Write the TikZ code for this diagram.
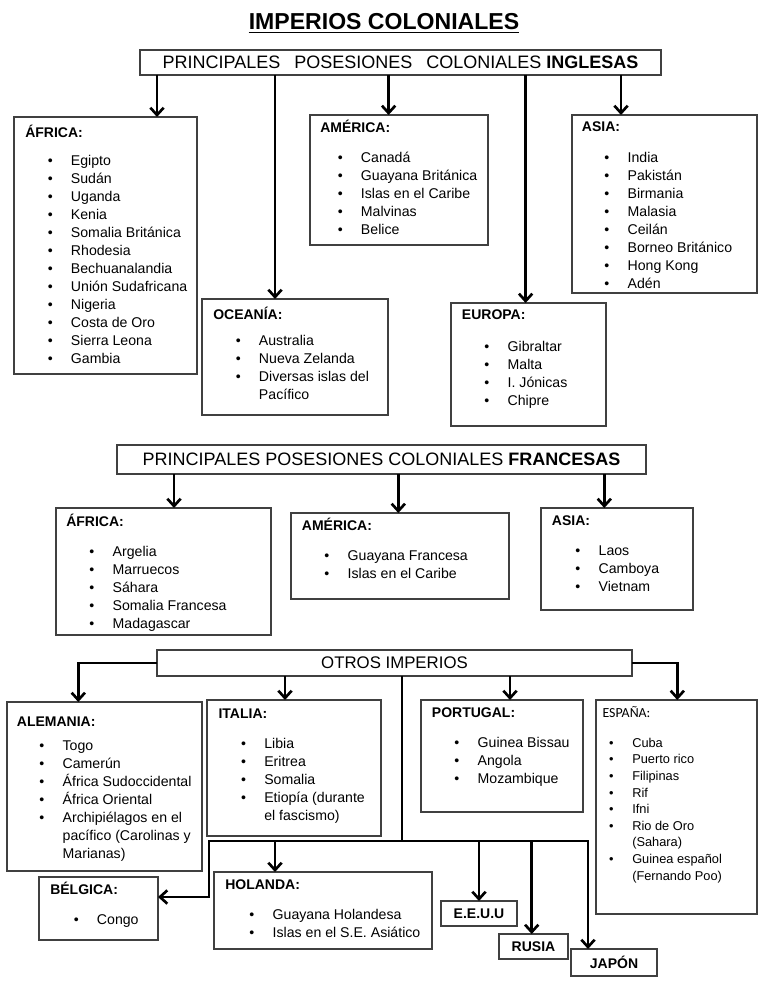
\documentclass[tikz,border=0pt]{standalone}
\usepackage{fontspec}
\setmainfont{Liberation Sans}
\newfontfamily\carl{Carlito}
\usetikzlibrary{arrows.meta}
\newcommand{\mkbox}[6][]{\node[bx,#1, minimum width={(#4-#2)*0.75pt}, minimum height={(#6-#3)*0.75pt}] (#5) at ({(#2+#4)/2},{(#3+#6)/2}) {};}
\newcommand{\lst}[1]{\begin{tabular}[t]{@{}p{17.4pt}@{}l@{}}#1\end{tabular}}
\newcommand{\bu}{\textbullet}
\tikzset{
 bx/.style={draw=black!75, line width=1.1pt, inner sep=0pt, outer sep=0pt, fill=white},
 conn/.style={line width=2pt, line join=miter},
 arr/.style={conn, -{Straight Barb[length=5.5pt,width=10pt]}},
 lbl/.style={anchor=base west, inner sep=0pt, font=\fontsize{10.5}{12}\selectfont\bfseries},
 items/.style={anchor=base west, inner sep=0pt, font=\fontsize{10.6}{13.5}\selectfont},
 sitems/.style={anchor=base west, inner sep=0pt, font=\fontsize{9.6}{12.45}\selectfont},
 hdr/.style={font=\fontsize{13.5}{16}\selectfont},
 ctr/.style={font=\fontsize{10.5}{12}\selectfont\bfseries, inner sep=0pt},
}
\begin{document}
\begin{tikzpicture}[x=0.75pt,y=-0.75pt]
\useasboundingbox (0,0) rectangle (768,994);
% title
\node[anchor=base, inner sep=0pt, font=\fontsize{17.3}{20}\selectfont\bfseries] (title) at (384,30) {IMPERIOS COLONIALES};
\draw[line width=1.2pt] ([yshift=-2pt]title.base west) -- ([yshift=-2pt]title.base east);

% ---------- English ----------
\mkbox{140}{50}{661}{ing}{75}
\node[hdr] (ingt) at (ing.center) {PRINCIPALES\hspace{10.5pt}POSESIONES\hspace{10.5pt}COLONIALES \textbf{INGLESAS}};
\mkbox{14}{117}{197}{eafr}{374}
\mkbox{202}{299}{388}{eoce}{415}
\mkbox{310}{115}{488}{eame}{245}
\mkbox{451}{303}{606}{eeur}{426}
\mkbox{572}{115}{757}{easi}{293}

\node[lbl] (leafr) at (25,137.5) {ÁFRICA:};
\node[items] (ieafr) at (47.5,166) {\lst{\bu & Egipto\\ \bu & Sudán\\ \bu & Uganda\\ \bu & Kenia\\ \bu & Somalia Británica\\ \bu & Rhodesia\\ \bu & Bechuanalandia\\ \bu & Unión Sudafricana\\ \bu & Nigeria\\ \bu & Costa de Oro\\ \bu & Sierra Leona\\ \bu & Gambia}};
\node[lbl] (leame) at (320,132.5) {AMÉRICA:};
\node[items] (ieame) at (337.5,163) {\lst{\bu & Canadá\\ \bu & Guayana Británica\\ \bu & Islas en el Caribe\\ \bu & Malvinas\\ \bu & Belice}};
\node[lbl] (leasi) at (581.7,131.5) {ASIA:};
\node[items] (ieasi) at (604.2,162.7) {\lst{\bu & India\\ \bu & Pakistán\\ \bu & Birmania\\ \bu & Malasia\\ \bu & Ceilán\\ \bu & Borneo Británico\\ \bu & Hong Kong\\ \bu & Adén}};
\node[lbl] (leoce) at (213,319.5) {OCEANÍA:};
\node[items] (ieoce) at (235.5,345) {\lst{\bu & Australia\\ \bu & Nueva Zelanda\\ \bu & Diversas islas del\\ & Pacífico}};
\node[lbl] (leeur) at (461.7,319.5) {EUROPA:};
\node[items] (ieeur) at (484.2,351) {\lst{\bu & Gibraltar\\ \bu & Malta\\ \bu & I. Jónicas\\ \bu & Chipre}};

\coordinate (c1) at (157,0);
\coordinate (c2) at (275,0);
\coordinate (c3) at (388.6,0);
\coordinate (c4) at (525.6,0);
\coordinate (c5) at (621,0);
\draw[arr] (ing.south -| c1) -- (eafr.north -| c1);
\draw[arr] (ing.south -| c2) -- (eoce.north -| c2);
\draw[arr] (ing.south -| c3) -- (eame.north -| c3);
\draw[arr] (ing.south -| c4) -- (eeur.north -| c4);
\draw[arr] (ing.south -| c5) -- (easi.north -| c5);

% ---------- French ----------
\mkbox{117}{445}{646}{fra}{474}
\node[hdr] (frat) at (fra.center) {PRINCIPALES POSESIONES COLONIALES \textbf{FRANCESAS}};
\mkbox{56}{508}{271}{fafr}{635}
\mkbox{291}{513}{509}{fame}{599}
\mkbox{541}{508}{693}{fasi}{610}
\node[lbl] (lfafr) at (66,526) {ÁFRICA:};
\node[items] (ifafr) at (89.2,556.7) {\lst{\bu & Argelia\\ \bu & Marruecos\\ \bu & Sáhara\\ \bu & Somalia Francesa\\ \bu & Madagascar}};
\node[lbl] (lfame) at (301.7,530.5) {AMÉRICA:};
\node[items] (ifame) at (324.2,560) {\lst{\bu & Guayana Francesa\\ \bu & Islas en el Caribe}};
\node[lbl] (lfasi) at (551.7,525) {ASIA:};
\node[items] (ifasi) at (575.2,555) {\lst{\bu & Laos\\ \bu & Camboya\\ \bu & Vietnam}};
\coordinate (f1) at (174,0);
\coordinate (f2) at (398.3,0);
\coordinate (f3) at (604.3,0);
\draw[arr] (fra.south -| f1) -- (fafr.north -| f1);
\draw[arr] (fra.south -| f2) -- (fame.north -| f2);
\draw[arr] (fra.south -| f3) -- (fasi.north -| f3);

% ---------- Otros ----------
\mkbox{157}{650}{632}{otr}{676}
\node[font=\fontsize{12.6}{15}\selectfont] (otrt) at (otr.center) {OTROS IMPERIOS};
\mkbox{7}{702}{202}{al}{871}
\mkbox{207}{700}{381}{it}{836}
\mkbox{421}{700}{583}{pt}{812}
\mkbox{596}{700}{757}{es}{914}
\mkbox{39}{877}{158}{be}{940}
\mkbox{214}{872}{432}{ho}{949}
\mkbox{441}{901}{517}{us}{926}
\mkbox{499}{934}{568}{ru}{959}
\mkbox{571}{949}{657}{ja}{976}

\node[lbl] (lal) at (16.7,726) {ALEMANIA:};
\node[items] (ial) at (39.2,750) {\lst{\bu & Togo\\ \bu & Camerún\\ \bu & África Sudoccidental\\ \bu & África Oriental\\ \bu & Archipiélagos en el\\ & pacífico (Carolinas y\\ & Marianas)}};
\node[lbl] (lit) at (218.3,718) {ITALIA:};
\node[items] (iit) at (240.8,748.3) {\lst{\bu & Libia\\ \bu & Eritrea\\ \bu & Somalia\\ \bu & Etiopía (durante\\ & el fascismo)}};
\node[lbl] (lpt) at (431.7,717) {PORTUGAL:};
\node[items] (ipt) at (454.2,747.7) {\lst{\bu & Guinea Bissau\\ \bu & Angola\\ \bu & Mozambique}};
\node[anchor=base west, inner sep=0pt, font=\fontsize{10.4}{12}\carl] (les) at (602.3,717) {ESPAÑA:};
\node[sitems] (ies) at (608.8,747.2) {\lst{\bu & Cuba\\ \bu & Puerto rico\\ \bu & Filipinas\\ \bu & Rif\\ \bu & Ifni\\ \bu & Rio de Oro\\ & (Sahara)\\ \bu & Guinea español\\ & (Fernando Poo)}};
\node[lbl] (lbe) at (50,894.5) {BÉLGICA:};
\node[items] (ibe) at (73.5,924.3) {\lst{\bu & Congo}};
\node[lbl] (lho) at (225,889.5) {HOLANDA:};
\node[items] (iho) at (249.2,919.3) {\lst{\bu & Guayana Holandesa\\ \bu & Islas en el S.E. Asiático}};
\node[ctr] (tus) at (us.center) {E.E.U.U};
\node[ctr] (tru) at (ru.center) {RUSIA};
\node[ctr] (tja) at (ja.center) {JAPÓN};

\coordinate (oal) at (78.3,0);
\coordinate (oes) at (677.3,0);
\coordinate (oit) at (285,0);
\coordinate (opt) at (510,0);
\coordinate (tr) at (402,841);
\coordinate (bl) at (209,841);
\coordinate (br) at (588,841);
\coordinate (bey) at (0,897);
\coordinate (cho) at (275,841);
\coordinate (cus) at (479,841);
\coordinate (cru) at (531.7,841);
\draw[arr] (otr.west) -| (al.north -| oal);
\draw[arr] (otr.east) -| (es.north -| oes);
\draw[arr] (otr.south -| oit) -- (it.north -| oit);
\draw[arr] (otr.south -| opt) -- (pt.north -| opt);
\draw[arr] (otr.south -| tr) -- (tr) -- (bl) |- (be.east |- bey);
\draw[arr] (tr) -- (br) -- (ja.north -| br);
\draw[arr] (cho) -- (ho.north -| cho);
\draw[arr] (cus) -- (us.north -| cus);
\draw[arr] (cru) -- (ru.north -| cru);
\end{tikzpicture}
\end{document}
